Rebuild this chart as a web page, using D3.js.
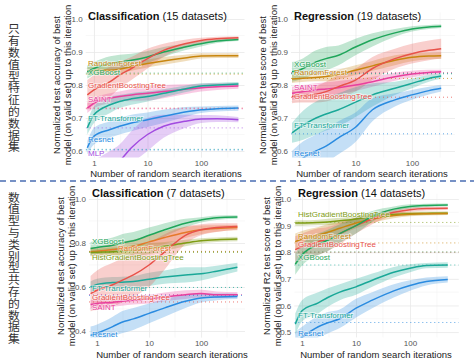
<!DOCTYPE html>
<html><head><meta charset="utf-8">
<script src="https://cdn.jsdelivr.net/npm/d3@7"></script>
<style>body{margin:0;background:#fff} svg{display:block}
.vt{writing-mode:vertical-rl;text-orientation:upright;}</style>
</head><body><svg id="c" width="474" height="362"></svg>
<script>
// ---------------- DATA ----------------
const itersLong = [0.75,1,2,3,5,10,20,50,100,200,500];
const itersShort = [0.75,1,2,3,5,10,20,50,100,200,330];
const xTickValues = [1,10,100];
const xMinorValues = [3.16,31.6,316];

// Panel 1: Classification, numerical features (15 datasets)
const clfNumModels = ["RandomForest","XGBoost","GradientBoostingTree","SAINT","FT-Transformer","Resnet","MLP"];
const clfNumMean = [
  [0.843,0.844,0.845,0.848,0.855,0.865,0.873,0.882,0.888,0.889,0.889],
  [0.840,0.850,0.865,0.870,0.875,0.885,0.900,0.915,0.925,0.933,0.938],
  [0.770,0.785,0.810,0.830,0.850,0.880,0.905,0.925,0.935,0.940,0.943],
  [0.730,0.745,0.760,0.765,0.770,0.775,0.780,0.787,0.792,0.795,0.797],
  [0.670,0.710,0.740,0.750,0.758,0.765,0.775,0.788,0.797,0.800,0.803],
  [0.610,0.645,0.665,0.675,0.685,0.695,0.705,0.718,0.725,0.728,0.730],
  [0.500,0.520,0.550,0.570,0.610,0.650,0.675,0.690,0.697,0.698,0.695]
];
const clfNumSpread = [
  [0.012,0.012,0.012,0.012,0.012,0.012,0.012,0.010,0.008,0.007,0.007],
  [0.020,0.020,0.022,0.022,0.020,0.018,0.015,0.010,0.008,0.006,0.005],
  [0.045,0.045,0.045,0.040,0.035,0.030,0.020,0.012,0.008,0.006,0.005],
  [0.015,0.015,0.015,0.015,0.018,0.022,0.020,0.015,0.012,0.010,0.008],
  [0.020,0.025,0.025,0.020,0.018,0.015,0.012,0.010,0.008,0.007,0.006],
  [0.020,0.025,0.025,0.025,0.025,0.022,0.020,0.015,0.010,0.008,0.008],
  [0.050,0.050,0.050,0.050,0.050,0.050,0.035,0.020,0.012,0.010,0.008]
];
const clfNumDefault = [0.833,0.836,0.730,0.728,0.605,0.603,0.670];

// Panel 2: Regression, numerical features (19 datasets)
const regNumModels = ["XGBoost","RandomForest","SAINT","GradientBoostingTree","FT-Transformer","Resnet"];
const regNumMean = [
  [0.840,0.845,0.870,0.880,0.890,0.915,0.937,0.958,0.970,0.976,0.978],
  [0.818,0.820,0.823,0.826,0.832,0.845,0.858,0.875,0.884,0.888,0.889],
  [0.775,0.778,0.785,0.788,0.792,0.800,0.810,0.825,0.833,0.838,0.840],
  [0.765,0.767,0.772,0.780,0.795,0.815,0.850,0.880,0.895,0.905,0.910],
  [0.655,0.670,0.700,0.712,0.725,0.748,0.770,0.790,0.805,0.820,0.827],
  [0.550,0.570,0.600,0.615,0.640,0.672,0.725,0.755,0.770,0.783,0.790]
];
const regNumSpread = [
  [0.030,0.030,0.035,0.035,0.030,0.025,0.020,0.012,0.008,0.006,0.005],
  [0.012,0.012,0.012,0.015,0.015,0.015,0.015,0.015,0.012,0.010,0.010],
  [0.020,0.020,0.020,0.020,0.020,0.018,0.015,0.012,0.010,0.008,0.006],
  [0.020,0.020,0.025,0.030,0.035,0.035,0.035,0.030,0.030,0.030,0.030],
  [0.030,0.040,0.050,0.050,0.050,0.045,0.035,0.020,0.015,0.010,0.008],
  [0.050,0.050,0.050,0.050,0.050,0.045,0.035,0.020,0.015,0.012,0.010]
];
const regNumDefault = [0.836,0.820,0.837,0.763,0.834,0.652];

// Panel 3: Classification, mixed features (7 datasets)
const clfMixModels = ["XGBoost","RandomForest","HistGradientBoostingTree","FT-Transformer","GradientBoostingTree","SAINT","Resnet"];
const clfMixMean = [
  [0.775,0.780,0.790,0.800,0.810,0.835,0.860,0.890,0.905,0.915,0.918],
  [0.760,0.762,0.770,0.775,0.785,0.805,0.825,0.848,0.860,0.866,0.870],
  [0.757,0.758,0.760,0.762,0.766,0.775,0.785,0.800,0.810,0.815,0.818],
  [0.600,0.612,0.620,0.622,0.625,0.635,0.645,0.655,0.660,0.672,0.690],
  [0.570,0.585,0.610,0.630,0.655,0.700,0.760,0.835,0.860,0.870,0.875],
  [0.520,0.525,0.530,0.535,0.540,0.545,0.555,0.565,0.570,0.565,0.565],
  [0.380,0.390,0.420,0.440,0.455,0.480,0.505,0.535,0.550,0.555,0.557]
];
const clfMixSpread = [
  [0.030,0.030,0.035,0.040,0.040,0.035,0.030,0.020,0.012,0.010,0.008],
  [0.020,0.020,0.025,0.030,0.030,0.030,0.030,0.025,0.020,0.015,0.012],
  [0.015,0.015,0.020,0.020,0.025,0.025,0.020,0.015,0.012,0.010,0.010],
  [0.025,0.025,0.025,0.025,0.025,0.030,0.030,0.035,0.030,0.025,0.020],
  [0.080,0.090,0.100,0.100,0.100,0.100,0.080,0.040,0.025,0.020,0.015],
  [0.020,0.020,0.020,0.020,0.020,0.020,0.020,0.020,0.018,0.015,0.012],
  [0.040,0.040,0.045,0.050,0.050,0.045,0.040,0.030,0.020,0.015,0.012]
];
const clfMixDefault = [0.760,0.762,0.758,0.598,0.532,0.565,0.562];

// Panel 4: Regression, mixed features (14 datasets)
const regMixModels = ["HistGradientBoostingTree","RandomForest","GradientBoostingTree","XGBoost","FT-Transformer","Resnet"];
const regMixMean = [
  [0.910,0.910,0.912,0.914,0.918,0.925,0.935,0.942,0.945,0.946,0.947],
  [0.840,0.850,0.865,0.875,0.890,0.910,0.925,0.938,0.943,0.945,0.946],
  [0.810,0.820,0.840,0.850,0.870,0.900,0.925,0.950,0.960,0.964,0.965],
  [0.755,0.790,0.830,0.845,0.870,0.900,0.935,0.962,0.972,0.976,0.978],
  [0.530,0.580,0.610,0.630,0.650,0.670,0.695,0.725,0.740,0.750,0.752],
  [0.460,0.480,0.520,0.535,0.550,0.590,0.620,0.655,0.675,0.690,0.698]
];
const regMixSpread = [
  [0.010,0.010,0.010,0.012,0.012,0.012,0.010,0.008,0.007,0.006,0.006],
  [0.030,0.030,0.030,0.030,0.025,0.020,0.015,0.010,0.008,0.007,0.006],
  [0.050,0.050,0.050,0.045,0.040,0.030,0.020,0.010,0.008,0.007,0.006],
  [0.040,0.040,0.040,0.040,0.035,0.030,0.020,0.010,0.008,0.006,0.005],
  [0.040,0.040,0.040,0.035,0.030,0.030,0.025,0.020,0.015,0.010,0.010],
  [0.040,0.040,0.040,0.040,0.035,0.035,0.030,0.025,0.020,0.015,0.012]
];
const regMixDefault = [0.912,0.835,0.800,0.801,0.752,0.536];

// Section labels
const sectionLabels = ["只有数值型特征的数据集","数值型与类别型共存的数据集"];

// ---------------- STYLE / LAYOUT ----------------
const modelColor = {
  "RandomForest":"#C8860F","XGBoost":"#1FA65A","GradientBoostingTree":"#E8524A",
  "SAINT":"#E8409E","FT-Transformer":"#1AA898","Resnet":"#2A8BE0","MLP":"#A24BE0",
  "HistGradientBoostingTree":"#7E9C14"
};
const panelColorOverride = {3:{"RandomForest":"#E5792A"}};
const font = "'Liberation Sans', Arial, Helvetica, sans-serif";

const panels = [
  {id:1, bold:"Classification", rest:" (15 datasets)", titleX:88, titleY:20,
   ylab:["Normalized test accuracy of best","model (on valid set) up to this iteration"], ylabX:[57,68], ylabY:85,
   xtitleX:166, xtitleY:177,
   iters:itersLong, models:clfNumModels, mean:clfNumMean, spread:clfNumSpread, def:clfNumDefault,
   xDomain:[0.7,650], xRange:[85.7,244.5], yDomain:[0.58,1.02], yRange:[157.6,12.4],
   yTicks:[0.6,0.7,0.8,0.9,1.0], yMinor:[0.65,0.75,0.85,0.95], labelX:88,
   labelV:[0.867,0.840,0.800,0.758,0.700,0.636,0.594]},
  {id:2, bold:"Regression", rest:" (19 datasets)", titleX:294, titleY:20,
   ylab:["Normalized R2 test score of best","model (on valid set) up to this iteration"], ylabX:[263,274], ylabY:85,
   xtitleX:372, xtitleY:177,
   iters:itersShort, models:regNumModels, mean:regNumMean, spread:regNumSpread, def:regNumDefault,
   xDomain:[0.72,580], xRange:[291,455], yDomain:[0.58,1.02], yRange:[157.6,12.4],
   yTicks:[0.6,0.7,0.8,0.9,1.0], yMinor:[0.65,0.75,0.85,0.95], labelX:294,
   labelV:[0.864,0.840,0.794,0.767,0.679,0.594]},
  {id:3, bold:"Classification", rest:" (7 datasets)", titleX:92, titleY:197,
   ylab:["Normalized test accuracy of best","model (on valid set) up to this iteration"], ylabX:[61,72], ylabY:266,
   xtitleX:172, xtitleY:358,
   iters:itersLong, models:clfMixModels, mean:clfMixMean, spread:clfMixSpread, def:clfMixDefault,
   xDomain:[0.7,700], xRange:[89,245], yDomain:[0.37,1.03], yRange:[337.6,192.4],
   yTicks:[0.4,0.6,0.8,1.0], yMinor:[0.5,0.7,0.9], labelX:92,
   labelV:[0.809,0.777,0.736,0.595,0.555,0.509,0.386], labelDX:{1:26}},
  {id:4, bold:"Regression", rest:" (14 datasets)", titleX:298, titleY:197,
   ylab:["Normalized R2 test score of best","model (on valid set) up to this iteration"], ylabX:[267,278], ylabY:266,
   xtitleX:376, xtitleY:358,
   iters:itersLong, models:regMixModels, mean:regMixMean, spread:regMixSpread, def:regMixDefault,
   xDomain:[0.72,800], xRange:[294.3,458.8], yDomain:[0.48,1.02], yRange:[337.4,193.7],
   yTicks:[0.5,0.6,0.7,0.8,0.9,1.0], yMinor:[0.55,0.65,0.75,0.85,0.95], labelX:298,
   labelV:[0.944,0.861,0.831,0.782,0.564,0.496]}
];

const svg = d3.select('#c').style('font-family', font);
const defs = svg.append('defs');

function drawPanel(p) {
  const x = d3.scaleLog().domain(p.xDomain).range(p.xRange);
  const y = d3.scaleLinear().domain(p.yDomain).range(p.yRange);
  const [x0,x1] = p.xRange, [yb,yt] = p.yRange;
  const g = svg.append('g');
  defs.append('clipPath').attr('id','clip'+p.id).append('rect')
    .attr('x',x0).attr('y',yt).attr('width',x1-x0).attr('height',yb-yt);

  // grid
  const grid = g.append('g');
  grid.selectAll('.ym').data(p.yMinor).join('line')
    .attr('x1',x0).attr('x2',x1).attr('y1',d=>y(d)).attr('y2',d=>y(d))
    .attr('stroke','#f3f3f3').attr('stroke-width',0.6);
  grid.selectAll('.xm').data(xMinorValues).join('line')
    .attr('y1',yt).attr('y2',yb).attr('x1',d=>x(d)).attr('x2',d=>x(d))
    .attr('stroke','#f3f3f3').attr('stroke-width',0.6);
  grid.append('g').attr('transform',`translate(${x0},0)`)
    .call(d3.axisLeft(y).tickValues(p.yTicks).tickSize(-(x1-x0)).tickFormat(''))
    .call(a=>a.select('.domain').remove())
    .call(a=>a.selectAll('line').attr('stroke','#e8e8e8').attr('stroke-width',0.8));
  grid.append('g').attr('transform',`translate(0,${yb})`)
    .call(d3.axisBottom(x).tickValues(xTickValues).tickSize(-(yb-yt)).tickFormat(''))
    .call(a=>a.select('.domain').remove())
    .call(a=>a.selectAll('line').attr('stroke','#e8e8e8').attr('stroke-width',0.8));

  // tick labels
  g.append('g').attr('transform',`translate(${x0},0)`)
    .call(d3.axisLeft(y).tickValues(p.yTicks).tickSize(0).tickPadding(3).tickFormat(d3.format('.1f')))
    .call(a=>a.select('.domain').remove())
    .call(a=>a.selectAll('text').attr('fill','#555').style('font-size','8px').style('font-family',font));
  g.append('g').attr('transform',`translate(0,${yb})`)
    .call(d3.axisBottom(x).tickValues(xTickValues).tickSize(0).tickPadding(3).tickFormat(d3.format('d')))
    .call(a=>a.select('.domain').remove())
    .call(a=>a.selectAll('text').attr('fill','#555').style('font-size','8px').style('font-family',font));

  const colorOf = m => (panelColorOverride[p.id] && panelColorOverride[p.id][m]) || modelColor[m];
  const series = p.models.map((m,i)=>({name:m, color:colorOf(m), def:p.def[i],
    pts:p.iters.map((it,k)=>({it, v:p.mean[i][k], s:p.spread[i][k]}))}));

  const plot = g.append('g').attr('clip-path',`url(#clip${p.id})`);
  const area = d3.area().x(d=>x(d.it)).y0(d=>y(d.v-d.s)).y1(d=>y(d.v+d.s)).curve(d3.curveMonotoneX);
  const line = d3.line().x(d=>x(d.it)).y(d=>y(d.v)).curve(d3.curveMonotoneX);
  plot.selectAll('.rib').data(series).join('path')
    .attr('d',d=>area(d.pts)).attr('fill',d=>d.color).attr('fill-opacity',0.28);
  plot.selectAll('.def').data(series).join('line')
    .attr('x1',x0).attr('x2',x1).attr('y1',d=>y(d.def)).attr('y2',d=>y(d.def))
    .attr('stroke',d=>d.color).attr('stroke-width',1).attr('stroke-dasharray','1 3').attr('opacity',0.75);
  plot.selectAll('.ln').data(series).join('path')
    .attr('d',d=>line(d.pts)).attr('fill','none').attr('stroke',d=>d.color).attr('stroke-width',1.5);

  // inline labels
  g.selectAll('.lab').data(series).join('text')
    .attr('x',(d,i)=>p.labelX + ((p.labelDX && p.labelDX[i])||0))
    .attr('y',(d,i)=>y(p.labelV[i])).attr('dy','0.35em')
    .attr('fill',d=>d.color).style('font-size','8px')
    .attr('stroke','#fff').attr('stroke-opacity',0.6).attr('stroke-width',1.6)
    .style('paint-order','stroke').text(d=>d.name);

  // title
  const t = g.append('text').attr('x',p.titleX).attr('y',p.titleY).attr('fill','#111').style('font-size','11px');
  t.append('tspan').attr('font-weight','bold').text(p.bold);
  t.append('tspan').text(p.rest);

  // y title
  p.ylab.forEach((s,i)=>{
    g.append('text').attr('transform',`translate(${p.ylabX[i]},${p.ylabY}) rotate(-90)`)
      .attr('text-anchor','middle').attr('dy','0.35em').attr('fill','#222').style('font-size','9.5px').text(s);
  });
  // x title
  g.append('text').attr('x',p.xtitleX).attr('y',p.xtitleY).attr('text-anchor','middle')
    .attr('fill','#222').style('font-size','9.5px').text('Number of random search iterations');
}

panels.forEach(drawPanel);

// section labels (Chinese, vertical writing mode)
const sectionCenterY = [88, 268];
sectionLabels.forEach((s,i)=>{
  svg.append('text').attr('class','vt').attr('x',14).attr('y',sectionCenterY[i])
    .attr('text-anchor','middle')
    .style('font-family',"'Noto Sans CJK SC', sans-serif").style('font-size','11.8px')
    .attr('fill','#333').text(s);
});

// dashed divider
svg.append('line').attr('x1',0).attr('x2',474).attr('y1',181).attr('y2',181)
  .attr('stroke','#4a6db3').attr('stroke-width',1.4).attr('stroke-dasharray','6 4');
</script></body></html>
